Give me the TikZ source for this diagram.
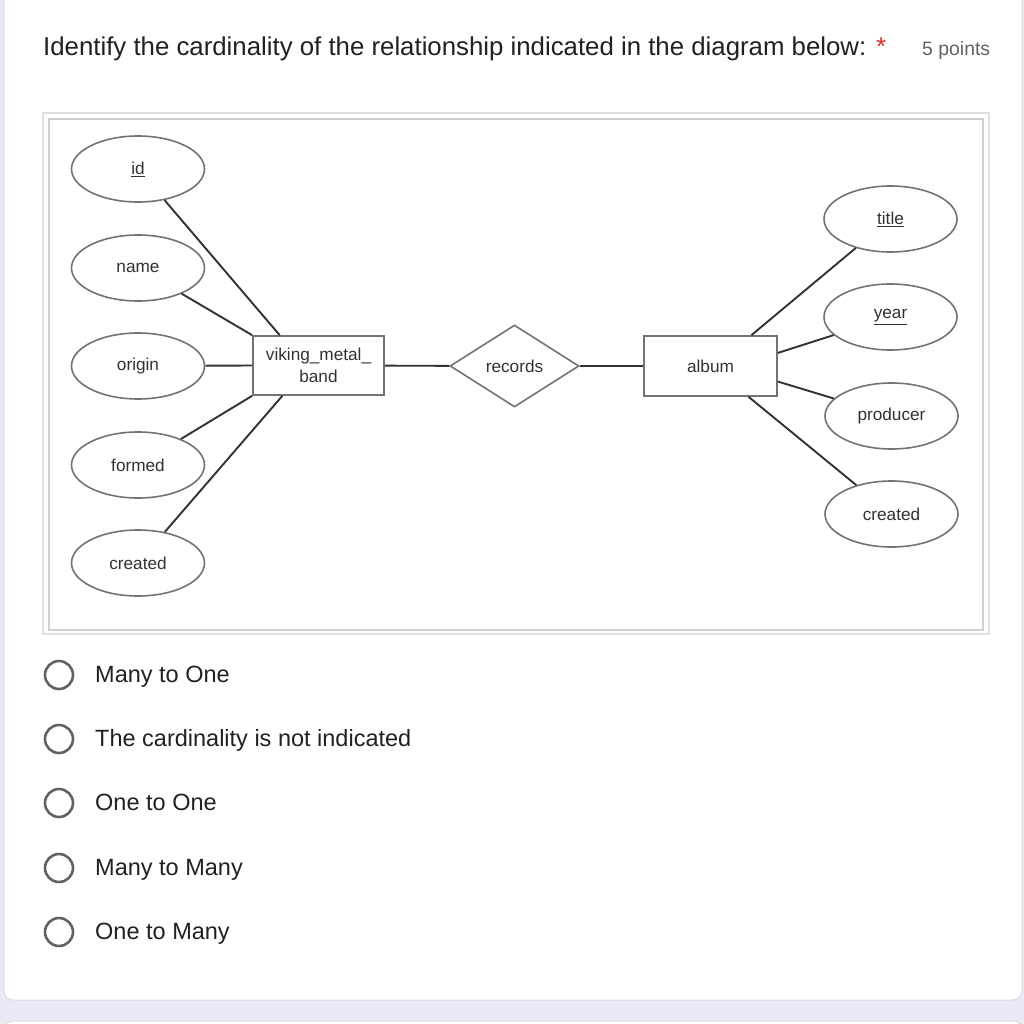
\documentclass[tikz,border=0pt]{standalone}
\usepackage{fontspec}
\setmainfont{Liberation Sans}
\usetikzlibrary{shapes.geometric}
\definecolor{lav}{RGB}{236,232,246}
\definecolor{cardline}{RGB}{218,220,224}
\definecolor{txt}{RGB}{32,33,36}
\definecolor{sub}{RGB}{95,99,104}
\definecolor{req}{RGB}{217,48,37}
\definecolor{erline}{RGB}{50,50,50}
\definecolor{shapeline}{RGB}{115,115,115}
\definecolor{ertext}{RGB}{50,50,50}
\definecolor{frameout}{RGB}{222,224,228}
\definecolor{framein}{RGB}{205,207,210}
\newcommand\ersize{\fontsize{17.2}{22}\selectfont}
\newcommand\optsize{\fontsize{23.5}{28}\selectfont}
\newcommand\ttlsize{\fontsize{25.8}{32}\selectfont}
\newcommand\ptsize{\fontsize{19.4}{24}\selectfont}
\begin{document}
\begin{tikzpicture}[x=1pt,y=-1pt,
 attr/.style={ellipse, draw=shapeline, line width=1.6pt, minimum width=133pt, minimum height=66pt, inner sep=0pt, font=\ersize, text=ertext},
 ent/.style={rectangle, draw=shapeline, line width=1.6pt, inner sep=0pt, font=\ersize, text=ertext, align=center},
 rel/.style={diamond, draw=shapeline, line width=1.6pt, minimum width=129pt, minimum height=82pt, inner sep=0pt, font=\ersize, text=ertext},
 conn/.style={draw=erline, line width=1.9pt},
 radio/.style={circle, draw=sub, line width=2.6pt, minimum size=28pt, inner sep=0pt},
 opt/.style={anchor=base west, font=\optsize, text=txt, inner sep=0pt},
]
\useasboundingbox (0,0) rectangle (1024,1024);
\clip (0,0) rectangle (1024,1024);
% page and cards
\fill[lav] (0,0) rectangle (1024,1024);
\draw[cardline, fill=white, line width=1pt, rounded corners=9pt] (4,-30) rectangle (1022,1000);
\draw[cardline, fill=white, line width=1pt, rounded corners=9pt] (4,1021) rectangle (1022,1080);
% header
\node[anchor=base west, inner sep=0pt, font=\ttlsize, text=txt] (q) at (43,56) {Identify the cardinality of the relationship indicated in the diagram below:};
\node[anchor=base west, inner sep=0pt, font=\ttlsize, text=req] (star) at (876,56) {*};
\node[anchor=base west, inner sep=0pt, font=\ptsize, text=sub] (pts) at (922,56) {5 points};
% image frame
\draw[frameout, line width=2.5pt] (43,113) rectangle (989,634);
\draw[framein, line width=1.2pt] (49,119) rectangle (983,630);
% ER diagram
\node[attr] (id) at (138,169) {\underline{id}};
\node[attr] (name) at (138,268) {name};
\node[attr] (origin) at (138,366) {origin};
\node[attr] (formed) at (138,465) {formed};
\node[attr] (created1) at (138,563) {created};
\node[ent, minimum width=131pt, minimum height=59pt] (band) at (318.5,365.5) {viking\_metal\_\\band};
\node[rel] (records) at (514.5,366) {records};
\node[ent, minimum width=133pt, minimum height=60pt] (album) at (710.5,366) {album};
\node[attr] (title) at (890.5,219) {\underline{title}};
\node[attr] (year) at (890.5,317) {\underline{year}};
\node[attr] (producer) at (891.5,416) {producer};
\node[attr] (created2) at (891.5,514) {created};
\draw[conn] (id) -- (band.142.5);
\draw[conn] (name) -- (band.north west);
\draw[conn] (origin) -- (band.west);
\draw[conn] (formed) -- (band.south west);
\draw[conn] (created1) -- (band.220.5);
\draw[conn] (band) -- (records);
\draw[conn] (records) -- (album);
\draw[conn] (album.37.2) -- (title);
\draw[conn] (album.11.9) -- (year);
\draw[conn] (album.-13.5) -- (producer);
\draw[conn] (album.-39.2) -- (created2);
% options
\node[radio] (r1) at (59,675) {};
\node[radio] (r2) at (59,739) {};
\node[radio] (r3) at (59,803) {};
\node[radio] (r4) at (59,868) {};
\node[radio] (r5) at (59,932) {};
\node[opt] (o1) at (95,682) {Many to One};
\node[opt] (o2) at (95,746) {The cardinality is not indicated};
\node[opt] (o3) at (95,810) {One to One};
\node[opt] (o4) at (95,875) {Many to Many};
\node[opt] (o5) at (95,939) {One to Many};
\end{tikzpicture}
\end{document}
